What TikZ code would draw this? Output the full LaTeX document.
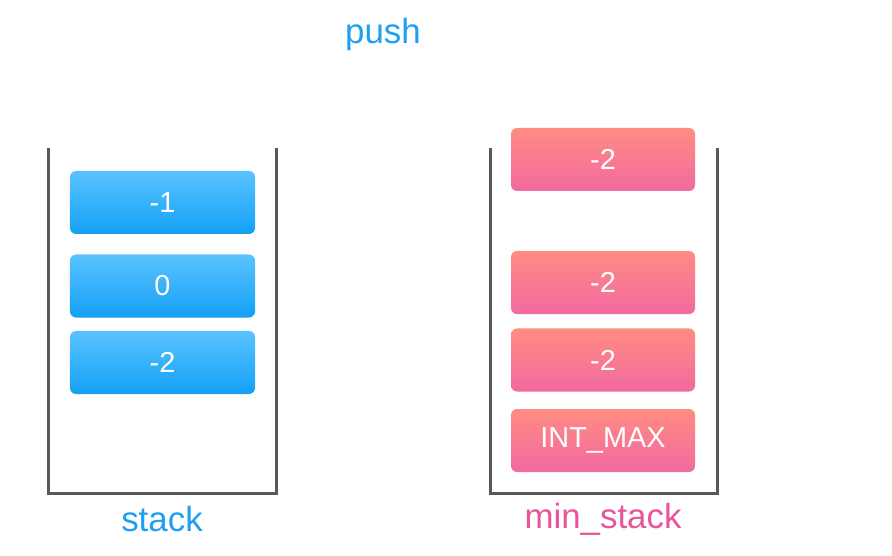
\documentclass[tikz,border=0pt]{standalone}
\usepackage{fontspec}
\setmainfont{Liberation Sans}
\definecolor{lblue}{RGB}{30,159,242}
\definecolor{lpink}{RGB}{232,85,154}
\definecolor{btop}{RGB}{90,195,255}
\definecolor{bbot}{RGB}{20,160,245}
\definecolor{ptop}{RGB}{255,140,130}
\definecolor{pbot}{RGB}{242,105,160}
\begin{document}
\begin{tikzpicture}[x=1bp,y=-1bp,
  wall/.style={draw=black!65,line width=3bp},
  bbox/.style={rounded corners=6bp,top color=btop,bottom color=bbot,text=white,font=\fontsize{29}{32}\selectfont,minimum width=185bp,minimum height=63bp,inner sep=0pt},
  pbox/.style={rounded corners=6bp,top color=ptop,bottom color=pbot,text=white,font=\fontsize{29}{32}\selectfont,minimum width=184bp,minimum height=63bp,inner sep=0pt},
  lab/.style={font=\fontsize{35}{40}\selectfont}]
\useasboundingbox (0,0) rectangle (892,556);
\draw[wall] (48,148) -- (48,493) -- (276,493) -- (276,148);
\draw[wall] (490,148) -- (490,493) -- (717,493) -- (717,148);
\node[bbox] (s1) at (162.5,202.5) {-1};
\node[bbox] (s2) at (162.5,286) {0};
\node[bbox] (s3) at (162.5,362.5) {-2};
\node[pbox] (m1) at (603,159.5) {-2};
\node[pbox] (m2) at (603,282.5) {-2};
\node[pbox] (m3) at (603,360) {-2};
\node[pbox] (m4) at (603,440.5) {INT\_MAX};
\node[lab,text=lblue] (push) at (383,34) {push};
\node[lab,text=lblue] (st) at (162,519) {stack};
\node[lab,text=lpink] (ms) at (603,519) {min\_stack};
\end{tikzpicture}
\end{document}
